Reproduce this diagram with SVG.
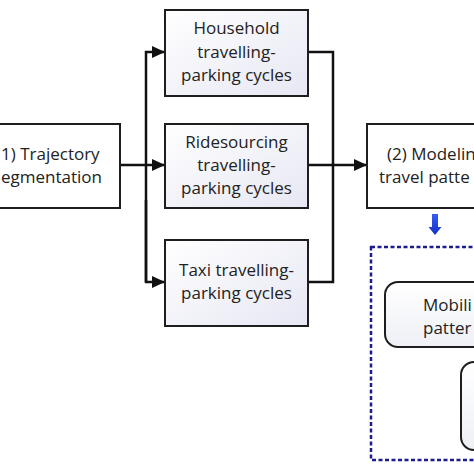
<svg xmlns="http://www.w3.org/2000/svg" width="474" height="474" viewBox="0 0 474 474">
<style>
.box{stroke:#1e1e1e;stroke-width:2}
.plain{fill:#ffffff}
.tint{fill:url(#tint)}
.rnd{fill:url(#soft);stroke:#1e1e1e;stroke-width:2}
.t{font-family:"Open Sans","Liberation Sans",sans-serif;font-size:17px;fill:#222222}
.c{text-anchor:middle}
.ln{fill:none;stroke:#111111;stroke-width:2.5}
</style>
<defs>
<linearGradient id="tint" x1="0" y1="0" x2="1" y2="1">
<stop offset="0" stop-color="#ffffff"/>
<stop offset="1" stop-color="#e6e7f3"/>
</linearGradient>
<linearGradient id="soft" x1="0" y1="0" x2="0" y2="1">
<stop offset="0" stop-color="#ffffff"/>
<stop offset="1" stop-color="#eef0f6"/>
</linearGradient>
<linearGradient id="blue" x1="0" y1="0" x2="0" y2="1">
<stop offset="0" stop-color="#3a5cf0"/>
<stop offset="1" stop-color="#1230c8"/>
</linearGradient>
<marker id="ah" markerWidth="13" markerHeight="12" refX="13" refY="6" orient="auto" markerUnits="userSpaceOnUse">
<path d="M0,0 L13,6 L0,12 Z" fill="#111111"/>
</marker>
</defs>
<g id="connectors">
<path class="ln" d="M120,165 H165" marker-end="url(#ah)"/>
<path class="ln" d="M146,282 V52 H165" marker-end="url(#ah)"/>
<path class="ln" d="M146,200 V282 H165" marker-end="url(#ah)"/>
<path class="ln" d="M308,52 H333 V282 H308"/>
<path class="ln" d="M308,165 H367" marker-end="url(#ah)"/>
<path d="M432,214 H438 V227 H441.5 L435,235 L428.5,227 H432 Z" fill="url(#blue)"/>
</g>
<g id="trajectory">
<rect class="box plain" x="-20" y="124" width="140" height="84"/>
<text class="t" x="1" y="160">1) Trajectory</text>
<text class="t" x="1" y="183">egmentation</text>
</g>
<g id="household">
<rect class="box tint" x="165" y="10" width="143" height="86"/>
<text class="t c" x="236.5" y="34">Household</text>
<text class="t c" x="236.5" y="58">travelling-</text>
<text class="t c" x="236.5" y="81">parking cycles</text>
</g>
<g id="ridesourcing">
<rect class="box tint" x="165" y="124" width="143" height="84"/>
<text class="t c" x="236.5" y="148">Ridesourcing</text>
<text class="t c" x="236.5" y="171">travelling-</text>
<text class="t c" x="236.5" y="194">parking cycles</text>
</g>
<g id="taxi">
<rect class="box tint" x="165" y="240" width="143" height="86"/>
<text class="t c" x="236.5" y="276">Taxi travelling-</text>
<text class="t c" x="236.5" y="299">parking cycles</text>
</g>
<g id="modeling">
<rect class="box plain" x="367" y="124" width="140" height="84"/>
<text class="t" x="387" y="160">(2) Modelin</text>
<text class="t" x="379" y="183">travel patte</text>
</g>
<g id="group-box">
<rect x="371" y="247" width="130" height="213" fill="none" stroke="#1c1c8e" stroke-width="2.5" stroke-dasharray="4 2.5"/>
</g>
<g id="mobility">
<rect class="rnd" x="385" y="282" width="120" height="65" rx="13"/>
<text class="t" x="423" y="311">Mobili</text>
<text class="t" x="423" y="334">patter</text>
</g>
<g id="second">
<rect class="rnd" x="461" y="362" width="60" height="88" rx="13"/>
</g>
</svg>
